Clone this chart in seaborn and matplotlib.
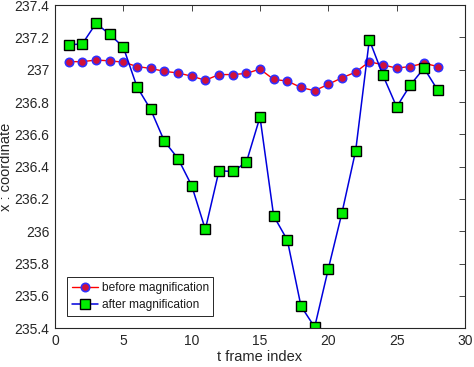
import numpy as np
import pandas as pd
import matplotlib
matplotlib.use("Agg")
import matplotlib.pyplot as plt
import seaborn as sns
from matplotlib.ticker import FuncFormatter

sns.set_theme(style="white")
plt.rcParams['font.family'] = ['Liberation Sans', 'DejaVu Sans']

# Data
frames = list(range(1, 29))
before = [237.05, 237.05, 237.06, 237.055, 237.047, 237.02, 237.008, 236.99, 236.98, 236.96,
          236.935, 236.97, 236.97, 236.977, 237.004, 236.94, 236.93, 236.89, 236.87, 236.91,
          236.95, 236.985, 237.05, 237.03, 237.01, 237.02, 237.04, 237.02]
after = [237.154, 237.16, 237.287, 237.22, 237.14, 236.894, 236.754, 236.558, 236.45, 236.283,
         236.011, 236.374, 236.37, 236.426, 236.707, 236.095, 235.945, 235.536, 235.406, 235.767,
         236.115, 236.498, 237.185, 236.965, 236.77, 236.905, 237.01, 236.874]

df = pd.DataFrame({"frame": frames, "before": before, "after": after})

fig = plt.figure(figsize=(4.74, 3.67), dpi=100)
ax = fig.add_axes([0.116, 0.106, 0.865, 0.88])

sns.lineplot(data=df, x="frame", y="before", ax=ax, color="red", lw=1.0,
             marker="o", markersize=6, markerfacecolor="#d0103a", markeredgecolor="#3030ff",
             markeredgewidth=1.2, label="before magnification")
sns.lineplot(data=df, x="frame", y="after", ax=ax, color="#0000dd", lw=1.1,
             marker="s", markersize=7, markerfacecolor="#00ee00", markeredgecolor="black",
             markeredgewidth=1.0, label="after magnification")

ax.set_xlim(0, 30)
ax.set_ylim(235.4, 237.4)
ax.set_xticks(range(0, 31, 5))
ax.set_yticks(np.arange(235.4, 237.41, 0.2))
ax.yaxis.set_major_formatter(FuncFormatter(lambda v, p: "%g" % round(v, 1)))
ax.tick_params(direction="in", top=True, right=True, length=4, width=0.6,
               labelsize=10, colors="#262626", pad=4)
for s in ax.spines.values():
    s.set_color("#262626")
    s.set_linewidth(0.8)
ax.set_xlabel("t frame index", fontsize=10.5, color="#262626", labelpad=2)
ax.set_ylabel("x : coordinate", fontsize=10.5, color="#262626")
ax.yaxis.set_label_coords(-0.102, 0.5)

leg = ax.legend(loc="lower left", bbox_to_anchor=(0.029, 0.037), fontsize=8.6,
                fancybox=False, framealpha=1, edgecolor="#262626",
                handlelength=2.2, borderpad=0.4, borderaxespad=0,
                labelspacing=0.45, handletextpad=0.3)
leg.get_frame().set_linewidth(0.7)
for t in leg.get_texts():
    t.set_color("#1a1a1a")

fig.savefig("out.png", dpi=100)
